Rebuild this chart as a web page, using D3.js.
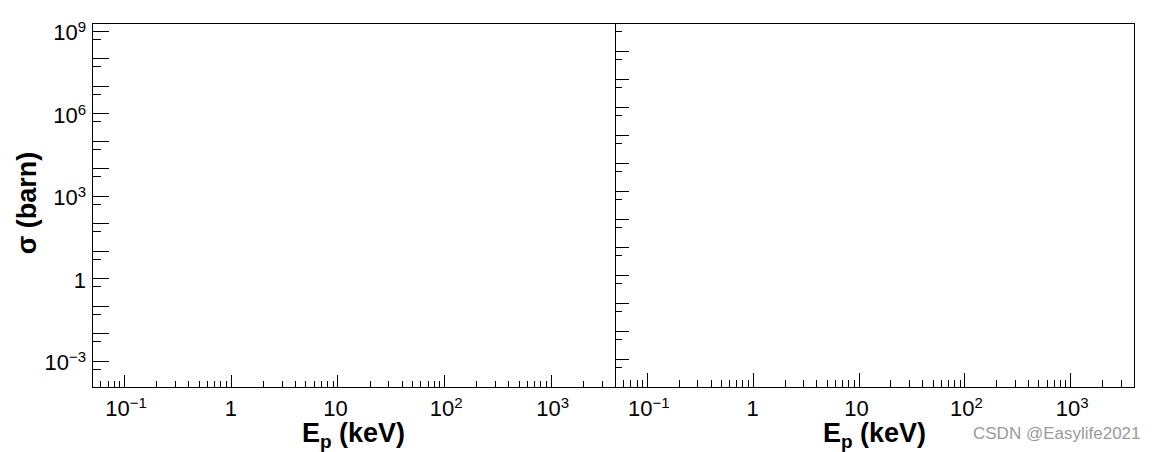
<!DOCTYPE html>
<meta charset="utf-8">
<title>sigma vs Ep</title>
<style>
  body { margin: 0; background: #fff; }
  svg { display: block; font-family: "Liberation Sans", Arial, sans-serif; }
  .frame { fill: none; stroke: #000; stroke-width: 1px; shape-rendering: crispEdges; }
  .tick { stroke: #000; stroke-width: 1px; shape-rendering: crispEdges; }
  .lab { font-size: 22px; fill: #000; }
  .title { font-size: 27px; font-weight: bold; fill: #000; }
  .mark { font-size: 17px; fill: #9a9a9a; }
</style>
<svg width="1156" height="452"></svg>
<script src="https://d3js.org/d3.v7.min.js"></script>
<script>
  // axis ranges (both pads share x, y ranges differ a bit)
  var xDomain = [0.05, 4000];
  var yDomainLeft = [1.1e-4, 1.9e9];
  var yDomainRight = [1e-4, 1e9];

  // exponents that carry a label
  var xLabelExp = [-1, 0, 1, 2, 3];
  var yLabelExp = [-3, 0, 3, 6, 9];
  var xMinorMult = [2, 3, 4, 5, 6, 7, 8, 9];
  var yMinorMult = [5];

  var xTitle = "E", xTitleSub = "p", xTitleRest = " (keV)";
  var yTitle = "\u03c3 (barn)";
  var watermark = "CSDN @Easylife2021";

  var svg = d3.select("svg");
  var yTop = 23, yBot = 387;

  var pads = [
    { x0: 92, x1: 615, yDomain: yDomainLeft, yLabels: true,
      yMaj: 17, yMin: 8.5, xMaj: 12, xMin: 6 },
    { x0: 615, x1: 1134, yDomain: yDomainRight, yLabels: false,
      yMaj: 14, yMin: 7, xMaj: 14, xMin: 7 }
  ];

  function decades(domain) {
    var lo = Math.floor(Math.log10(domain[0]) - 1e-9),
        hi = Math.ceil(Math.log10(domain[1]) + 1e-9);
    return d3.range(lo, hi + 1);
  }

  function inside(v, domain) {
    return v >= domain[0] * 0.9999 && v <= domain[1] * 1.0001;
  }

  function expLabel(sel, e, fs) {
    if (e === 0) { sel.text("1"); return; }
    if (e === 1) { sel.text("10"); return; }
    sel.append("tspan").text("10");
    sel.append("tspan")
      .attr("dy", -8)
      .style("font-size", fs + "px")
      .text(e < 0 ? "\u2212" + (-e) : e);
  }

  pads.forEach(function (p) {
    var x = d3.scaleLog().domain(xDomain).range([p.x0, p.x1]);
    var y = d3.scaleLog().domain(p.yDomain).range([yBot, yTop]);
    var g = svg.append("g");

    // x ticks
    var xMajors = [], xMinors = [];
    decades(xDomain).forEach(function (k) {
      var v = Math.pow(10, k);
      if (inside(v, xDomain)) xMajors.push(v);
      xMinorMult.forEach(function (m) {
        if (inside(m * v, xDomain)) xMinors.push(m * v);
      });
    });
    g.selectAll(".xmaj").data(xMajors).enter().append("line")
      .attr("class", "tick")
      .attr("x1", d => Math.round(x(d)) + 0.5).attr("x2", d => Math.round(x(d)) + 0.5)
      .attr("y1", yBot).attr("y2", yBot - p.xMaj);
    g.selectAll(".xmin").data(xMinors).enter().append("line")
      .attr("class", "tick")
      .attr("x1", d => Math.round(x(d)) + 0.5).attr("x2", d => Math.round(x(d)) + 0.5)
      .attr("y1", yBot).attr("y2", yBot - p.xMin);

    // y ticks
    var yMajors = [], yMinors = [];
    decades(p.yDomain).forEach(function (k) {
      var v = Math.pow(10, k);
      if (inside(v, p.yDomain)) yMajors.push(v);
      yMinorMult.forEach(function (m) {
        if (inside(m * v, p.yDomain)) yMinors.push(m * v);
      });
    });
    g.selectAll(".ymaj").data(yMajors).enter().append("line")
      .attr("class", "tick")
      .attr("y1", d => Math.round(y(d)) + 0.5).attr("y2", d => Math.round(y(d)) + 0.5)
      .attr("x1", p.x0).attr("x2", p.x0 + p.yMaj);
    g.selectAll(".ymin").data(yMinors).enter().append("line")
      .attr("class", "tick")
      .attr("y1", d => Math.round(y(d)) + 0.5).attr("y2", d => Math.round(y(d)) + 0.5)
      .attr("x1", p.x0).attr("x2", p.x0 + p.yMin);

    // frame
    g.append("rect").attr("class", "frame")
      .attr("x", p.x0 + 0.5).attr("y", yTop + 0.5)
      .attr("width", p.x1 - p.x0).attr("height", yBot - yTop);

    // x labels
    g.selectAll(".xl").data(xLabelExp).enter().append("text")
      .attr("class", "lab")
      .attr("text-anchor", "middle")
      .attr("x", d => x(Math.pow(10, d)) + (d > 1 || d < 0 ? 2 : (d === 1 ? -2 : 0)))
      .attr("y", 416)
      .each(function (d) { expLabel(d3.select(this), d, 15); });

    // y labels
    if (p.yLabels) {
      g.selectAll(".yl").data(yLabelExp).enter().append("text")
        .attr("class", "lab")
        .attr("text-anchor", "end")
        .attr("x", p.x0 - 6)
        .attr("y", d => y(Math.pow(10, d)) + 9.5)
        .each(function (d) { expLabel(d3.select(this), d, 15); });
    }

    // x title
    var t = g.append("text").attr("class", "title")
      .attr("text-anchor", "middle")
      .attr("x", (p.x0 + p.x1) / 2)
      .attr("y", 442);
    t.append("tspan").text(xTitle);
    t.append("tspan").attr("dy", 6).style("font-size", "19px").text(xTitleSub);
    t.append("tspan").attr("dy", -6).text(xTitleRest);
  });

  // y title
  svg.append("text").attr("class", "title")
    .attr("text-anchor", "middle")
    .attr("transform", "translate(36,203) rotate(-90)")
    .text(yTitle);

  svg.append("text").attr("class", "mark")
    .attr("x", 973).attr("y", 439)
    .text(watermark);
</script>
